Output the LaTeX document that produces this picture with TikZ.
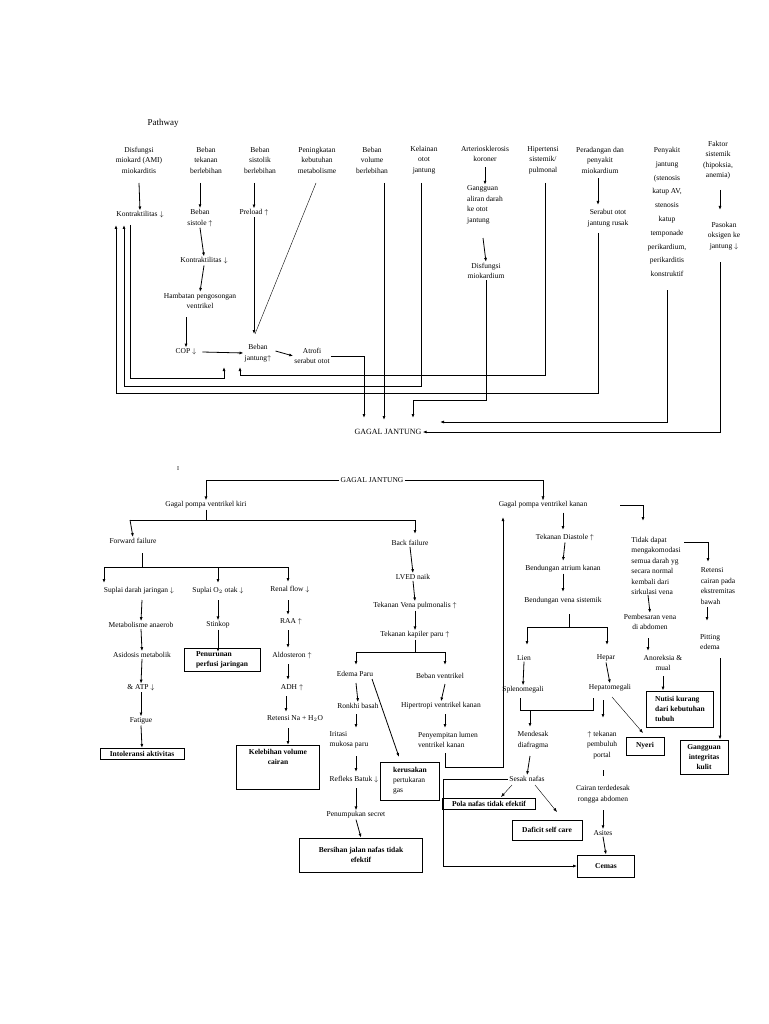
\documentclass[tikz,border=0pt]{standalone}
\usepackage{fontspec}
\setmainfont{Liberation Serif}
\usetikzlibrary{arrows.meta}
\begin{document}
\begin{tikzpicture}[x=1pt,y=-1pt,
 t/.style={inner sep=1pt,align=center,font=\fontsize{7.5}{10.5}\selectfont},
 tl/.style={t,align=left},
 bx/.style={draw,thick,inner sep=3pt,align=center,font=\fontsize{7.5}{10}\selectfont\bfseries},
 ar/.style={-{Latex[length=4pt,width=3pt]},thick},
 ln/.style={thin}]
\useasboundingbox (0,0) rectangle (768,1024);
% ===== top =====
\node[t,font=\fontsize{9}{11}\selectfont] (pw) at (163,123) {Pathway};
\node[t] (s1) at (139,160) {Disfungsi\\miokard (AMI)\\miokarditis};
\node[t] (s2) at (206,160) {Beban\\tekanan\\berlebihan};
\node[t] (s3) at (260,160) {Beban\\sistolik\\berlebihan};
\node[t] (s4) at (317,160) {Peningkatan\\kebutuhan\\metabolisme};
\node[t] (s5) at (372,160) {Beban\\volume\\berlebihan};
\node[t] (s6) at (424,160) {Kelainan\\otot\\jantung};
\node[t] (s7) at (485,154) {Arteriosklerosis\\koroner};
\node[t] (s8) at (543,160) {Hipertensi\\sistemik/\\pulmonal};
\node[t] (s9) at (600,160) {Peradangan dan\\penyakit\\miokardium};
\node[t,font=\fontsize{7.5}{13.8}\selectfont] (s10) at (667,212) {Penyakit\\jantung\\(stenosis\\katup AV,\\stenosis\\katup\\temponade\\perikardium,\\perikarditis\\konstruktif};
\node[t] (s11) at (718,160) {Faktor\\sistemik\\(hipoksia,\\anemia)};
\node[t] (k1) at (140,215) {Kontraktilitas $\downarrow$};
\node[t] (bs) at (200,218) {Beban\\sistole $\uparrow$};
\node[t] (pl) at (254,213) {Preload $\uparrow$};
\node[t] (k2) at (204,261) {Kontraktilitas $\downarrow$};
\node[t] (hp) at (200,301) {Hambatan pengosongan\\ventrikel};
\node[t] (cop) at (186,352) {COP $\downarrow$};
\node[t] (bj) at (258,353) {Beban\\jantung$\uparrow$};
\node[t] (at) at (312,356) {Atrofi\\serabut otot};
\node[tl] (ga) at (485,205) {Gangguan\\aliran darah\\ke otot\\jantung};
\node[t] (dm) at (486,271) {Disfungsi\\miokardium};
\node[t] (so) at (608,218) {Serabut otot\\jantung rusak};
\node[t] (po) at (724,236) {Pasokan\\oksigen ke\\jantung $\downarrow$};
\node[t,font=\fontsize{8}{10}\selectfont] (gj) at (388,432) {GAGAL JANTUNG};
\draw[ar] (139,183) -- (k1.north);
\draw[ar] (200,183) -- (bs.north);
\draw[ar] (254,183) -- (pl.north);
\draw[ar] (bs.south) -- (k2.north);
\draw[ar] (k2.south) -- (hp.north);
\draw[ar] (186,317) -- (cop.north);
\draw[ar] (cop.east)++(5,0) -- (bj.west);
\draw[ar] (bj.east)++(3,-2) -- (at.west);
\draw[ar] (pl.south) -- (254,334);
\draw[ln] (316,183) -- (255,334);
\draw[ar] (at.east) -| (364,418);
\draw[ar] (384,183) -- (384,420);
\draw[ar] (s7.south) ++(0,4) -- (ga.north);
\draw[ar] (483,238) -- (dm.north);
\draw[ar] (dm.south) |- (413,400) -- (413,418);
\draw[ar] (130,225) |- (224,378) -- (224,367);
\draw[ar] (545,183) |- (240,375) -- (240,367);
\draw[ar] (421,183) |- (124,386) -- (124,225);
\draw[ar] (s9.south) ++(-2,4) -- (598,205);
\draw[ar] (598,233) |- (116,393) -- (116,225);
\draw[ar] (667,290) |- (440,422);
\draw[ar] (720,190) -- (720,210);
\draw[ar] (720,262) |- (gj.east);
% ===== bottom =====
\node[t,font=\fontsize{6}{7}\selectfont] (im) at (178,469) {I};
\node[t] (gj2) at (372,480) {GAGAL JANTUNG};
\node[t] (gk) at (206,505) {Gagal pompa ventrikel kiri};
\node[t] (gkn) at (543,505) {Gagal pompa ventrikel kanan};
\draw[ar] (gj2.west) -| (gk.north);
\draw[ar,ln] (gj2.east) -| (gkn.north);
\node[t] (ff) at (133,541) {Forward failure};
\node[t] (bf) at (410,543) {Back failure};
\draw[ln] (gk.south) -- (206,520);
\draw[ar] (130,520) -- (ff.north);
\draw[ar] (130,520) -| (415,534);
\node[t] (sd) at (139,591) {Suplai darah jaringan $\downarrow$};
\node[t] (so2) at (218,591) {Suplai O$_2$ otak $\downarrow$};
\node[t] (rf) at (290,590) {Renal flow $\downarrow$};
\draw[ln] (142,553) -- (142,567);
\draw[ar] (104,567) -- (104,583);
\draw[ar] (104,567) -| (218,583);
\draw[ar] (218,567) -| (288,582);
\node[t] (ma) at (141,625) {Metabolisme anaerob};
\node[t] (st) at (218,625) {Stinkop};
\node[t] (raa) at (291,622) {RAA $\uparrow$};
\node[t] (am) at (142,655) {Asidosis metabolik};
\node[bx,align=left,minimum width=76pt] (pp) at (222,660) {Penurunan\\perfusi jaringan};
\node[t] (al) at (292,656) {Aldosteron $\uparrow$};
\node[t] (atp) at (141,688) {\& ATP $\downarrow$};
\node[t] (adh) at (292,688) {ADH $\uparrow$};
\node[t] (fa) at (141,721) {Fatigue};
\node[t] (rn) at (295,719) {Retensi Na + H$_2$O};
\node[bx,minimum width=84pt] (ia) at (142,754) {Intoleransi aktivitas};
\node[bx,minimum width=83pt,minimum height=44pt,anchor=north] (kv) at (278,745) {Kelebihan volume\\cairan\\[12pt]};
\draw[ar] (142,600) -- (ma.north);
\draw[ar] (ma.south) -- (am.north);
\draw[ar] (am.south) -- (atp.north);
\draw[ar] (atp.south) -- (fa.north);
\draw[ar] (fa.south) -- (ia.north);
\draw[ar] (218,600) -- (st.north);
\draw[ar] (st.south) -- (218,652);
\draw[ar] (288,600) -- (288,615);
\draw[ar] (288,630) -- (288,648);
\draw[ar] (288,664) -- (288,680);
\draw[ar] (286,696) -- (286,712);
\draw[ar] (288,728) -- (kv.north -| 288,0);
% back failure
\node[t] (lv) at (413,577) {LVED naik};
\node[t] (tv) at (415,606) {Tekanan Vena pulmonalis $\uparrow$};
\node[t] (tk) at (415,635) {Tekanan kapiler paru $\uparrow$};
\draw[ar] (bf.south) -- (lv.north);
\draw[ar] (lv.south) -- (tv.north);
\draw[ar] (tv.south) -- (tk.north);
\draw[ln] (tk.south) -- (415,652);
\draw[ar] (445,652) -| (356,665);
\draw[ar] (356,652) -| (445,665);
\node[t] (ep) at (355,674) {Edema Paru};
\node[t] (bv) at (440,676) {Beban ventrikel};
\node[t] (rb) at (358,706) {Ronkhi basah};
\node[t] (hv) at (441,706) {Hipertropi ventrikel kanan};
\node[tl] (im2) at (349,740) {Iritasi\\mukosa paru};
\node[tl] (pv) at (448,740) {Penyempitan lumen\\ventrikel kanan};
\node[t] (rbt) at (354,780) {Refleks Batuk $\downarrow$};
\node[t] (ps) at (356,815) {Penumpukan secret};
\node[bx,minimum width=123pt,minimum height=34pt] (bj2) at (361,855) {Bersihan jalan nafas tidak\\efektif};
\node[bx,align=left,minimum width=59pt,minimum height=38pt] (kp) at (410,781) {kerusakan\\\mdseries pertukaran\\\mdseries gas};
\draw[ar] (356,683) -- (rb.north);
\draw[ar] (356,714) -- (356,728);
\draw[ar] (356,756) -- (356,772);
\draw[ar] (356,788) -- (ps.north);
\draw[ar] (ps.south) -- (bj2.north);
\draw[ar] (445,684) -- (hv.north);
\draw[ar] (445,714) -- (445,728);
\draw[ar] (372,679) -- (399,757);
\draw[ar] (445,753) |- (503,767) -- (503,517);
% right heart
\node[t] (td) at (565,538) {Tekanan Diastole $\uparrow$};
\node[t] (ba) at (563,569) {Bendungan atrium kanan};
\node[t] (bvs) at (563,601) {Bendungan vena sistemik};
\draw[ar] (gkn.south) ++(20,3) -- (563,530);
\draw[ar] (td.south) -- (563,561);
\draw[ar] (ba.south) -- (563,592);
\draw[ln] (569,614) -- (569,627);
\draw[ar] (527,627) -- (527,645);
\draw[ar] (527,627) -| (607,645);
\node[t] (li) at (524,658) {Lien};
\node[t] (he) at (606,658) {Hepar};
\node[t] (sp) at (523,690) {Splenomegali};
\node[t] (hm) at (610,688) {Hepatomegali};
\draw[ar] (li.south) -- (sp.north);
\draw[ar] (he.south) -- (hm.north);
\draw[ln] (520,698) |- (593,710) -- (593,698);
\draw[ar] (530,710) -- (530,727);
\node[t] (md) at (533,740) {Mendesak\\diafragma};
\node[t] (sn) at (527,779) {Sesak nafas};
\draw[ar] (530,756) -- (sn.north);
\node[bx,minimum width=93pt] (pn) at (489,804) {Pola nafas tidak efektif};
\node[bx,minimum width=70pt,minimum height=20pt] (ds) at (547,830) {Daficit self care};
\draw[ar,ln] (512,785) -- (501,797);
\draw[ar,ln] (535,785) -- (557,812);
\node[bx,minimum width=57pt,minimum height=22pt] (ce) at (606,866) {Cemas};
\draw[ar] (sn.west) -| (443,866) -- (ce.west);
\draw[ar] (603,700) -- (603,718);
\node[t] (tp) at (602,745) {$\uparrow$ tekanan\\pembuluh\\portal};
\draw[ln] (603,770) -- (603,776);
\node[t] (ct) at (603,794) {Cairan terdedesak\\rongga abdomen};
\node[t] (as) at (603,833) {Asites};
\draw[ar] (603,810) -- (as.north);
\draw[ar] (as.south) -- (ce.north);
\node[bx,minimum width=38pt,minimum height=18pt] (ny) at (645,746) {Nyeri};
\draw[ar,ln] (612,697) -- (643,733);
\node[tl] (tdm) at (656,566) {Tidak dapat\\mengakomodasi\\semua darah yg\\secara normal\\kembali dari\\sirkulasi vena};
\draw[ar] (620,505) -| (643,521);
\node[t] (pbv) at (650,622) {Pembesaran vena\\di abdomen};
\draw[ar] (648,595) -- (pbv.north);
\node[t] (an) at (663,663) {Anoreksia \&\\mual};
\draw[ar] (648,638) -- (648,651);
\node[bx,align=left,minimum width=67pt,minimum height=36pt] (nk) at (680,709) {Nutisi kurang\\dari kebutuhan\\tubuh};
\draw[ar] (663,676) -- (nk.north -| 663,0);
\node[tl] (rc) at (718,586) {Retensi\\cairan pada\\ekstremitas\\bawah};
\draw[ar] (684,542) -| (708,562);
\node[t] (pe) at (710,642) {Pitting\\edema};
\draw[ar] (707,607) -- (707,621);
\node[bx,minimum width=48pt,minimum height=34pt] (gik) at (704,757) {Gangguan\\integritas\\kulit};
\draw[ar] (720,658) -- (gik.north -| 720,0);
\end{tikzpicture}
\end{document}
